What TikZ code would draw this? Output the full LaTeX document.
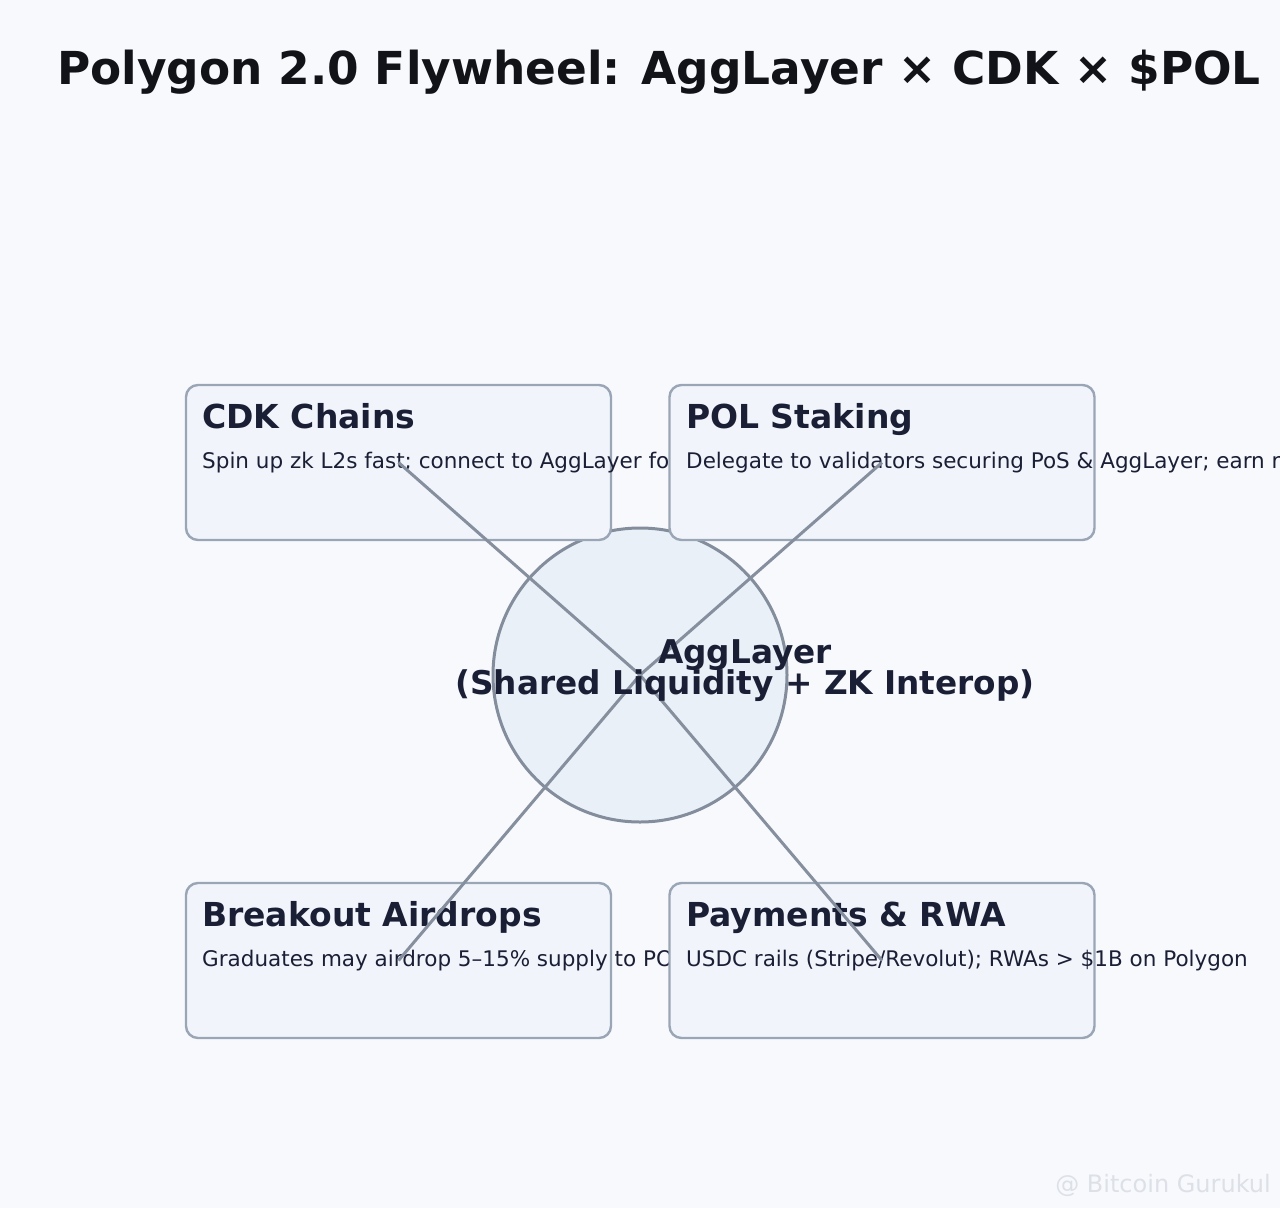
\documentclass[tikz,border=0pt]{standalone}
\usepackage{fontspec}
\setmainfont{DejaVu Sans}
\usetikzlibrary{positioning}

\definecolor{bgcol}{HTML}{F7F9FD}
\definecolor{cardfill}{HTML}{F1F5FB}
\definecolor{carddraw}{HTML}{9AA6B6}
\definecolor{hubfill}{HTML}{E9F0F8}
\definecolor{hubdraw}{HTML}{838D9C}
\definecolor{spokecol}{HTML}{868F9E}
\definecolor{ink}{HTML}{1B1F35}
\definecolor{titleink}{HTML}{111318}
\definecolor{markcol}{HTML}{DDE1E7}

\begin{document}
\begin{tikzpicture}[x=1pt, y=-1pt,
    card/.style = {draw=carddraw, fill=cardfill, line width=2.4pt, rounded corners=12pt, minimum width=425pt, minimum height=155pt, inner sep=0pt},
    hub/.style = {draw=hubdraw, fill=hubfill, line width=3pt, circle, minimum size=294pt, inner sep=0pt},
    head/.style = {anchor=base west, inner sep=0pt, text=ink, font=\fontsize{33}{39}\selectfont\bfseries},
    body/.style = {anchor=base west, inner sep=0pt, text=ink, font=\fontsize{21.5}{26}\selectfont},
    spoke/.style = {draw=spokecol, line width=3pt}]
    \fill[bgcol] (0,0) rectangle (1280,1208);
    \useasboundingbox (0,0) rectangle (1280,1208);

    \node[anchor=base, inner sep=0pt, text=titleink, font=\fontsize{45.4}{52}\selectfont\bfseries] (title) at (659,84) {Polygon 2.0 Flywheel: AggLayer × CDK × \$POL};

    \node[hub] (hub) at (640,675) {};

    \node[card] (cdk) at (398.5,462.5) {};
    \node[head] (cdkhead) at (202,428) {CDK Chains};
    \node[body] (cdkbody) at (202,468) {Spin up zk L2s fast; connect to AggLayer for};

    \node[card] (pol) at (882,462.5) {};
    \node[head] (polhead) at (686,428) {POL Staking};
    \node[body] (polbody) at (686,468) {Delegate to validators securing PoS \& AggLayer; earn rewards};

    \node[card] (drop) at (398.5,960.5) {};
    \node[head] (drophead) at (202,926) {Breakout Airdrops};
    \node[body] (dropbody) at (202,966) {Graduates may airdrop 5–15\% supply to POL};

    \node[card] (pay) at (882,960.5) {};
    \node[head] (payhead) at (686,926) {Payments \& RWA};
    \node[body] (paybody) at (686,966) {USDC rails (Stripe/Revolut); RWAs > \$1B on Polygon};

    \draw[spoke] (hub.center) -- (cdk.center);
    \draw[spoke] (hub.center) -- (pol.center);
    \draw[spoke] (hub.center) -- (drop.center);
    \draw[spoke] (hub.center) -- (pay.center);

    \node[anchor=base, inner sep=0pt, text=ink, font=\fontsize{32.7}{36}\selectfont\bfseries] (hubtop) at (745,663) {AggLayer};
    \node[anchor=base, inner sep=0pt, text=ink, font=\fontsize{32.7}{36}\selectfont\bfseries] (hubbot) at (745,694) {(Shared Liquidity + ZK Interop)};

    \node[anchor=base east, inner sep=0pt, text=markcol, font=\fontsize{24}{28}\selectfont] (mark) at (1271,1192) {@ Bitcoin Gurukul};
\end{tikzpicture}
\end{document}
